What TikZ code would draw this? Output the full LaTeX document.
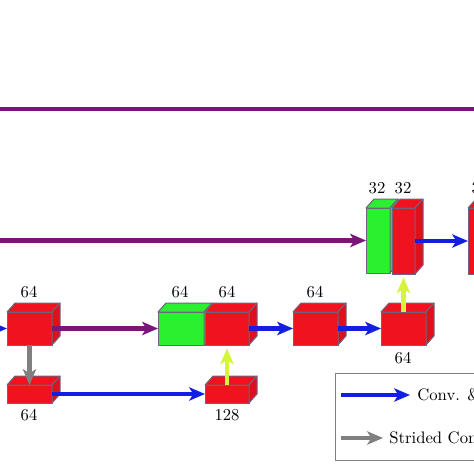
\documentclass[tikz,border=0pt]{standalone}
\usetikzlibrary{arrows.meta,calc}
\definecolor{blockred}{RGB}{240,18,30}
\definecolor{blockgreen}{RGB}{42,240,48}
\definecolor{edgecol}{RGB}{110,100,130}
\definecolor{skippurple}{RGB}{122,22,122}
\definecolor{convblue}{RGB}{18,30,225}
\definecolor{upyellow}{RGB}{212,245,60}
\definecolor{strgray}{RGB}{128,128,128}
\tikzset{
  cubeface/.style={draw=edgecol, line width=0.6pt, inner sep=0pt, outer sep=0pt, anchor=north west},
  cubeedge/.style={draw=edgecol, line width=0.6pt, line join=round},
  flow/.style={line width=2.6pt, -{Stealth[length=9.5pt,width=8pt,inset=2.5pt]}},
  convarrow/.style={flow, convblue},
  skiparrow/.style={flow, skippurple},
  uparrow/.style={flow, upyellow},
  stridearrow/.style={flow, strgray},
  sizelabel/.style={font=\normalsize, inner sep=0pt},
  legendtext/.style={font=\normalsize, inner sep=0pt, anchor=west},
}
% name, x, y (top-left of front face, px), width, height, colour
\newcommand\cubeblock[6]{%
  \node[cubeface, fill=#6, minimum width=#4*0.6pt, minimum height=#5*0.6pt] (#1) at (#2,#3) {};
  \draw[cubeedge, fill=#6] (#1.north west) -- ++(8,-9) -- ++(#4,0) -- (#1.north east) -- cycle;
  \draw[cubeedge, fill=#6!92!black] (#1.north east) -- ++(8,-9) -- ++(0,#5) -- (#1.south east) -- cycle;
}
\begin{document}
\begin{tikzpicture}[x=0.6pt, y=-0.6pt]
\useasboundingbox (0,0) rectangle (474,474);
\clip (0,0) rectangle (474,474);

% top skip line
\coordinate (topL) at (-30,109);
\coordinate (topR) at (520,109);
\draw[line width=2.6pt, skippurple] (topL) -- (topR);

% blocks
\cubeblock{A}{7}{312}{45}{33}{blockred}
\cubeblock{B}{7}{385}{45}{18}{blockred}
\cubeblock{G1}{158}{312}{46}{33}{blockgreen}
\cubeblock{R2}{205}{312}{44}{33}{blockred}
\cubeblock{C}{205}{385}{44}{18}{blockred}
\cubeblock{D}{293}{312}{45}{33}{blockred}
\cubeblock{E}{381}{312}{45}{33}{blockred}
\cubeblock{G2}{366}{208}{24}{65}{blockgreen}
\cubeblock{R3}{392}{208}{23}{66}{blockred}
\cubeblock{F}{468}{208}{23}{66}{blockred}

% labels
\node[sizelabel] (lA) at (29,292) {64};
\node[sizelabel] (lB) at (29,415) {64};
\node[sizelabel] (lG1) at (180,292) {64};
\node[sizelabel] (lR2) at (227,292) {64};
\node[sizelabel] (lC) at (227,415) {128};
\node[sizelabel] (lD) at (315,292) {64};
\node[sizelabel] (lE) at (403,358) {64};
\node[sizelabel] (lG2) at (377,188) {32};
\node[sizelabel] (lR3) at (403,188) {32};
\node[sizelabel] (lF) at (480,188) {32};

% connectors
\coordinate (inA) at (-30,328.5);
\coordinate (inG2) at (-30,240.5);
\draw[convarrow] (inA) -- (A.west);
\draw[skiparrow] (A.east) -- (G1.west);
\draw[stridearrow] (A.south) -- (B.north);
\draw[convarrow] (B.east) -- (C.west);
\draw[uparrow, shorten >=2pt] (C.north) -- (R2.south);
\draw[convarrow] (R2.east) -- (D.west);
\draw[convarrow] (D.east) -- (E.west);
\draw[uparrow, shorten >=2pt] (E.north) -- (R3.south);
\draw[skiparrow] (inG2) -- (G2.west);
\draw[convarrow] (R3.east) -- (F.west);

% legend
\node[draw=strgray, line width=0.8pt, minimum width=185*0.6pt, minimum height=87*0.6pt, anchor=north west, inner sep=0pt] (legend) at (335,373) {};
\coordinate (l1s) at (341,395);
\coordinate (l1e) at (410,395);
\coordinate (l2s) at (341,438);
\coordinate (l2e) at (383,438);
\draw[convarrow] (l1s) -- (l1e);
\draw[stridearrow] (l2s) -- (l2e);
\node[legendtext] (t1) at (417,395) {Conv. \& ReLU};
\node[legendtext] (t2) at (389,438) {Strided Conv.};
\end{tikzpicture}
\end{document}
